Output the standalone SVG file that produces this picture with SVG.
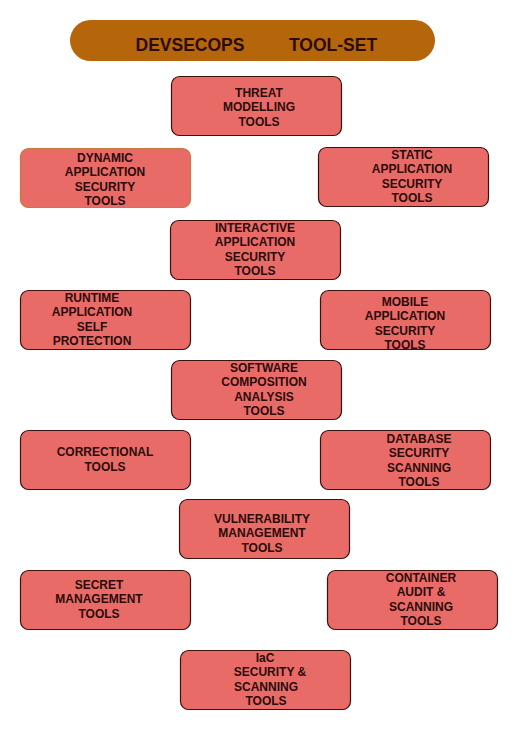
<svg xmlns="http://www.w3.org/2000/svg" width="518" height="731" viewBox="0 0 518 731">
<style>
.box{fill:#e96b67;stroke:#3a1212;stroke-width:1.2}
.t{font-family:"Liberation Sans",Arial,sans-serif;font-weight:bold;font-size:12px;fill:#2a0c0c;text-anchor:middle}
.title{font-family:"Liberation Sans",Arial,sans-serif;font-weight:bold;font-size:17.5px;fill:#2a0c0c;text-anchor:middle}
</style>
<rect width="518" height="731" fill="#ffffff"/>
<g id="title">
<rect x="70" y="20" width="365" height="41" rx="20.5" fill="#b5650a"/>
<text class="title" x="190" y="51">DEVSECOPS</text>
<text class="title" x="333" y="51">TOOL-SET</text>
</g>
<g id="connectors"></g>
<g id="threat">
<rect class="box" x="171.5" y="76.5" width="170" height="59" rx="8"/>
<text class="t" x="259" y="97">THREAT</text>
<text class="t" x="259" y="111">MODELLING</text>
<text class="t" x="259" y="126">TOOLS</text>
</g>
<g id="dynamic">
<rect class="box" x="20.5" y="148.5" width="170" height="59" rx="8" style="stroke:#c8793c"/>
<text class="t" x="105" y="162">DYNAMIC</text>
<text class="t" x="105" y="176">APPLICATION</text>
<text class="t" x="105" y="191">SECURITY</text>
<text class="t" x="105" y="205">TOOLS</text>
</g>
<g id="static">
<rect class="box" x="318.5" y="147.5" width="170" height="59" rx="8"/>
<text class="t" x="412" y="159">STATIC</text>
<text class="t" x="412" y="173">APPLICATION</text>
<text class="t" x="412" y="188">SECURITY</text>
<text class="t" x="412" y="202">TOOLS</text>
</g>
<g id="interactive">
<rect class="box" x="170.5" y="220.5" width="170" height="59" rx="8"/>
<text class="t" x="255" y="232">INTERACTIVE</text>
<text class="t" x="255" y="246">APPLICATION</text>
<text class="t" x="255" y="261">SECURITY</text>
<text class="t" x="255" y="275">TOOLS</text>
</g>
<g id="runtime">
<rect class="box" x="20.5" y="290.5" width="170" height="59" rx="8"/>
<text class="t" x="92" y="302">RUNTIME</text>
<text class="t" x="92" y="316">APPLICATION</text>
<text class="t" x="92" y="331">SELF</text>
<text class="t" x="92" y="345">PROTECTION</text>
</g>
<g id="mobile">
<rect class="box" x="320.5" y="290.5" width="170" height="59" rx="8"/>
<text class="t" x="405" y="306">MOBILE</text>
<text class="t" x="405" y="320">APPLICATION</text>
<text class="t" x="405" y="335">SECURITY</text>
<text class="t" x="405" y="349">TOOLS</text>
</g>
<g id="software">
<rect class="box" x="171.5" y="360.5" width="170" height="59" rx="8"/>
<text class="t" x="264" y="372">SOFTWARE</text>
<text class="t" x="264" y="386">COMPOSITION</text>
<text class="t" x="264" y="401">ANALYSIS</text>
<text class="t" x="264" y="415">TOOLS</text>
</g>
<g id="correctional">
<rect class="box" x="20.5" y="430.5" width="170" height="59" rx="8"/>
<text class="t" x="105" y="456">CORRECTIONAL</text>
<text class="t" x="105" y="471">TOOLS</text>
</g>
<g id="database">
<rect class="box" x="320.5" y="430.5" width="170" height="59" rx="8"/>
<text class="t" x="419" y="443">DATABASE</text>
<text class="t" x="419" y="457">SECURITY</text>
<text class="t" x="419" y="472">SCANNING</text>
<text class="t" x="419" y="486">TOOLS</text>
</g>
<g id="vulnerability">
<rect class="box" x="179.5" y="499.5" width="170" height="59" rx="8"/>
<text class="t" x="262" y="523">VULNERABILITY</text>
<text class="t" x="262" y="537">MANAGEMENT</text>
<text class="t" x="262" y="552">TOOLS</text>
</g>
<g id="secret">
<rect class="box" x="20.5" y="570.5" width="170" height="59" rx="8"/>
<text class="t" x="99" y="589">SECRET</text>
<text class="t" x="99" y="603">MANAGEMENT</text>
<text class="t" x="99" y="618">TOOLS</text>
</g>
<g id="container">
<rect class="box" x="327.5" y="570.5" width="170" height="59" rx="8"/>
<text class="t" x="421" y="582">CONTAINER</text>
<text class="t" x="421" y="596">AUDIT &amp;</text>
<text class="t" x="421" y="611">SCANNING</text>
<text class="t" x="421" y="625">TOOLS</text>
</g>
<g id="iac">
<rect class="box" x="180.5" y="650.5" width="170" height="59" rx="8"/>
<text class="t" x="265" y="662">IaC</text>
<text class="t" x="270" y="676">SECURITY &amp;</text>
<text class="t" x="266" y="691">SCANNING</text>
<text class="t" x="266" y="705">TOOLS</text>
</g>
</svg>
